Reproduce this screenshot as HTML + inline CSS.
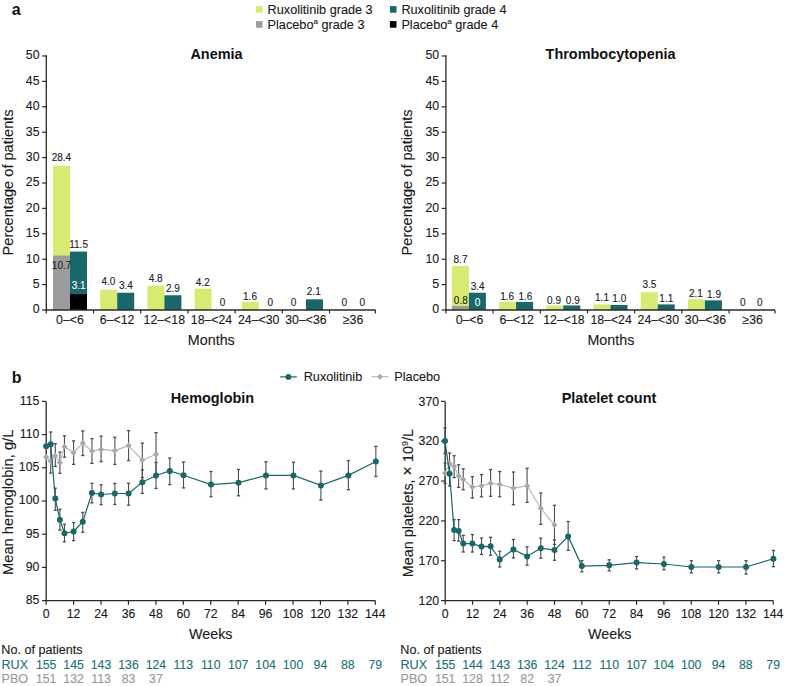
<!DOCTYPE html>
<html><head><meta charset="utf-8"><title>Figure</title>
<style>
html,body{margin:0;padding:0;background:#ffffff;}
body{width:785px;height:686px;overflow:hidden;}
svg{display:block;font-family:"Liberation Sans", sans-serif;}

</style></head>
<body>
<svg width="785" height="686" viewBox="0 0 785 686">
<rect x="0" y="0" width="785" height="686" fill="#ffffff"/>
<text x="11.80" y="15.20" font-size="16" text-anchor="start" font-weight="bold" fill="#111" stroke="#111" stroke-width="0.0" >a</text>
<rect x="256.00" y="6.10" width="6.60" height="6.60" fill="#d8ea72"/>
<text x="267.60" y="13.90" font-size="12.7" text-anchor="start" font-weight="normal" fill="#1a1a1a" stroke="#1a1a1a" stroke-width="0.12" >Ruxolitinib grade 3</text>
<rect x="389.90" y="6.10" width="6.60" height="6.60" fill="#186769"/>
<text x="401.40" y="13.90" font-size="12.7" text-anchor="start" font-weight="normal" fill="#1a1a1a" stroke="#1a1a1a" stroke-width="0.12" >Ruxolitinib grade 4</text>
<rect x="256.00" y="21.10" width="6.60" height="6.60" fill="#9c9c9c"/>
<text x="267.60" y="28.90" font-size="12.7" text-anchor="start" font-weight="normal" fill="#1a1a1a" stroke="#1a1a1a" stroke-width="0.12" >Placebo<tspan font-size="8" dy="-4.5">a</tspan><tspan dy="4.5"> grade 3</tspan></text>
<rect x="389.90" y="21.10" width="6.60" height="6.60" fill="#000000"/>
<text x="401.40" y="28.90" font-size="12.7" text-anchor="start" font-weight="normal" fill="#1a1a1a" stroke="#1a1a1a" stroke-width="0.12" >Placebo<tspan font-size="8" dy="-4.5">a</tspan><tspan dy="4.5"> grade 4</tspan></text>
<rect x="53.00" y="165.73" width="17.00" height="144.27" fill="#d8ea72"/>
<rect x="70.00" y="251.58" width="17.00" height="58.42" fill="#186769"/>
<rect x="100.20" y="289.68" width="17.00" height="20.32" fill="#d8ea72"/>
<rect x="117.20" y="292.73" width="17.00" height="17.27" fill="#186769"/>
<rect x="147.40" y="285.62" width="17.00" height="24.38" fill="#d8ea72"/>
<rect x="164.40" y="295.27" width="17.00" height="14.73" fill="#186769"/>
<rect x="194.60" y="288.66" width="17.00" height="21.34" fill="#d8ea72"/>
<rect x="241.80" y="301.87" width="17.00" height="8.13" fill="#d8ea72"/>
<rect x="306.00" y="299.33" width="17.00" height="10.67" fill="#186769"/>
<rect x="53.00" y="255.64" width="17.00" height="54.36" fill="#9c9c9c"/>
<rect x="70.00" y="294.25" width="17.00" height="15.75" fill="#000000"/>
<text x="61.60" y="268.60" font-size="10" text-anchor="middle" font-weight="normal" fill="#222" stroke="#222" stroke-width="0.12" >10.7</text>
<text x="78.60" y="288.80" font-size="10" text-anchor="middle" font-weight="normal" fill="#ffffff" stroke="#ffffff" stroke-width="0.12" >3.1</text>
<text x="61.40" y="161.40" font-size="10" text-anchor="middle" font-weight="normal" fill="#222" stroke="#222" stroke-width="0.12" >28.4</text>
<text x="78.60" y="247.60" font-size="10" text-anchor="middle" font-weight="normal" fill="#222" stroke="#222" stroke-width="0.12" >11.5</text>
<text x="108.40" y="285.30" font-size="10" text-anchor="middle" font-weight="normal" fill="#222" stroke="#222" stroke-width="0.12" >4.0</text>
<text x="125.90" y="288.50" font-size="10" text-anchor="middle" font-weight="normal" fill="#222" stroke="#222" stroke-width="0.12" >3.4</text>
<text x="155.60" y="281.50" font-size="10" text-anchor="middle" font-weight="normal" fill="#222" stroke="#222" stroke-width="0.12" >4.8</text>
<text x="172.90" y="291.50" font-size="10" text-anchor="middle" font-weight="normal" fill="#222" stroke="#222" stroke-width="0.12" >2.9</text>
<text x="202.80" y="286.20" font-size="10" text-anchor="middle" font-weight="normal" fill="#222" stroke="#222" stroke-width="0.12" >4.2</text>
<text x="222.60" y="305.60" font-size="10" text-anchor="middle" font-weight="normal" fill="#222" stroke="#222" stroke-width="0.12" >0</text>
<text x="250.00" y="299.90" font-size="10" text-anchor="middle" font-weight="normal" fill="#222" stroke="#222" stroke-width="0.12" >1.6</text>
<text x="270.20" y="305.60" font-size="10" text-anchor="middle" font-weight="normal" fill="#222" stroke="#222" stroke-width="0.12" >0</text>
<text x="293.50" y="305.60" font-size="10" text-anchor="middle" font-weight="normal" fill="#222" stroke="#222" stroke-width="0.12" >0</text>
<text x="313.80" y="295.10" font-size="10" text-anchor="middle" font-weight="normal" fill="#222" stroke="#222" stroke-width="0.12" >2.1</text>
<text x="344.20" y="305.70" font-size="10" text-anchor="middle" font-weight="normal" fill="#222" stroke="#222" stroke-width="0.12" >0</text>
<text x="362.20" y="305.70" font-size="10" text-anchor="middle" font-weight="normal" fill="#222" stroke="#222" stroke-width="0.12" >0</text>
<line x1="46.30" y1="55.20" x2="46.30" y2="310.60" stroke="#2a2a2a" stroke-width="1.3"/>
<line x1="45.70" y1="310.00" x2="375.40" y2="310.00" stroke="#2a2a2a" stroke-width="1.3"/>
<line x1="42.10" y1="310.00" x2="46.30" y2="310.00" stroke="#2a2a2a" stroke-width="1.2"/>
<text x="39.50" y="313.40" font-size="12.3" text-anchor="end" font-weight="normal" fill="#1a1a1a" stroke="#1a1a1a" stroke-width="0.12" >0</text>
<line x1="42.10" y1="284.60" x2="46.30" y2="284.60" stroke="#2a2a2a" stroke-width="1.2"/>
<text x="39.50" y="288.00" font-size="12.3" text-anchor="end" font-weight="normal" fill="#1a1a1a" stroke="#1a1a1a" stroke-width="0.12" >5</text>
<line x1="42.10" y1="259.20" x2="46.30" y2="259.20" stroke="#2a2a2a" stroke-width="1.2"/>
<text x="39.50" y="262.60" font-size="12.3" text-anchor="end" font-weight="normal" fill="#1a1a1a" stroke="#1a1a1a" stroke-width="0.12" >10</text>
<line x1="42.10" y1="233.80" x2="46.30" y2="233.80" stroke="#2a2a2a" stroke-width="1.2"/>
<text x="39.50" y="237.20" font-size="12.3" text-anchor="end" font-weight="normal" fill="#1a1a1a" stroke="#1a1a1a" stroke-width="0.12" >15</text>
<line x1="42.10" y1="208.40" x2="46.30" y2="208.40" stroke="#2a2a2a" stroke-width="1.2"/>
<text x="39.50" y="211.80" font-size="12.3" text-anchor="end" font-weight="normal" fill="#1a1a1a" stroke="#1a1a1a" stroke-width="0.12" >20</text>
<line x1="42.10" y1="183.00" x2="46.30" y2="183.00" stroke="#2a2a2a" stroke-width="1.2"/>
<text x="39.50" y="186.40" font-size="12.3" text-anchor="end" font-weight="normal" fill="#1a1a1a" stroke="#1a1a1a" stroke-width="0.12" >25</text>
<line x1="42.10" y1="157.60" x2="46.30" y2="157.60" stroke="#2a2a2a" stroke-width="1.2"/>
<text x="39.50" y="161.00" font-size="12.3" text-anchor="end" font-weight="normal" fill="#1a1a1a" stroke="#1a1a1a" stroke-width="0.12" >30</text>
<line x1="42.10" y1="132.20" x2="46.30" y2="132.20" stroke="#2a2a2a" stroke-width="1.2"/>
<text x="39.50" y="135.60" font-size="12.3" text-anchor="end" font-weight="normal" fill="#1a1a1a" stroke="#1a1a1a" stroke-width="0.12" >35</text>
<line x1="42.10" y1="106.80" x2="46.30" y2="106.80" stroke="#2a2a2a" stroke-width="1.2"/>
<text x="39.50" y="110.20" font-size="12.3" text-anchor="end" font-weight="normal" fill="#1a1a1a" stroke="#1a1a1a" stroke-width="0.12" >40</text>
<line x1="42.10" y1="81.40" x2="46.30" y2="81.40" stroke="#2a2a2a" stroke-width="1.2"/>
<text x="39.50" y="84.80" font-size="12.3" text-anchor="end" font-weight="normal" fill="#1a1a1a" stroke="#1a1a1a" stroke-width="0.12" >45</text>
<line x1="42.10" y1="56.00" x2="46.30" y2="56.00" stroke="#2a2a2a" stroke-width="1.2"/>
<text x="39.50" y="59.40" font-size="12.3" text-anchor="end" font-weight="normal" fill="#1a1a1a" stroke="#1a1a1a" stroke-width="0.12" >50</text>
<line x1="46.30" y1="310.00" x2="46.30" y2="313.40" stroke="#2a2a2a" stroke-width="1.2"/>
<line x1="93.50" y1="310.00" x2="93.50" y2="313.40" stroke="#2a2a2a" stroke-width="1.2"/>
<line x1="140.70" y1="310.00" x2="140.70" y2="313.40" stroke="#2a2a2a" stroke-width="1.2"/>
<line x1="187.90" y1="310.00" x2="187.90" y2="313.40" stroke="#2a2a2a" stroke-width="1.2"/>
<line x1="235.10" y1="310.00" x2="235.10" y2="313.40" stroke="#2a2a2a" stroke-width="1.2"/>
<line x1="282.30" y1="310.00" x2="282.30" y2="313.40" stroke="#2a2a2a" stroke-width="1.2"/>
<line x1="329.50" y1="310.00" x2="329.50" y2="313.40" stroke="#2a2a2a" stroke-width="1.2"/>
<line x1="375.40" y1="310.00" x2="375.40" y2="313.40" stroke="#2a2a2a" stroke-width="1.2"/>
<text x="69.90" y="324.30" font-size="12.3" text-anchor="middle" font-weight="normal" fill="#1a1a1a" stroke="#1a1a1a" stroke-width="0.12" >0–&lt;6</text>
<text x="117.10" y="324.30" font-size="12.3" text-anchor="middle" font-weight="normal" fill="#1a1a1a" stroke="#1a1a1a" stroke-width="0.12" >6–&lt;12</text>
<text x="164.30" y="324.30" font-size="12.3" text-anchor="middle" font-weight="normal" fill="#1a1a1a" stroke="#1a1a1a" stroke-width="0.12" >12–&lt;18</text>
<text x="211.50" y="324.30" font-size="12.3" text-anchor="middle" font-weight="normal" fill="#1a1a1a" stroke="#1a1a1a" stroke-width="0.12" >18–&lt;24</text>
<text x="258.70" y="324.30" font-size="12.3" text-anchor="middle" font-weight="normal" fill="#1a1a1a" stroke="#1a1a1a" stroke-width="0.12" >24–&lt;30</text>
<text x="305.90" y="324.30" font-size="12.3" text-anchor="middle" font-weight="normal" fill="#1a1a1a" stroke="#1a1a1a" stroke-width="0.12" >30–&lt;36</text>
<text x="353.10" y="324.30" font-size="12.3" text-anchor="middle" font-weight="normal" fill="#1a1a1a" stroke="#1a1a1a" stroke-width="0.12" >≥36</text>
<text x="211.30" y="344.70" font-size="14.3" text-anchor="middle" font-weight="normal" fill="#1a1a1a" stroke="#1a1a1a" stroke-width="0.12" >Months</text>
<text x="216.50" y="58.60" font-size="14.45" text-anchor="middle" font-weight="bold" fill="#111" stroke="#111" stroke-width="0.0" >Anemia</text>
<text transform="translate(12.70,182.4) rotate(-90)" font-size="14.6" text-anchor="middle" fill="#1a1a1a" stroke="#1a1a1a" stroke-width="0.12">Percentage of patients</text>
<rect x="451.90" y="265.80" width="17.00" height="44.20" fill="#d8ea72"/>
<rect x="468.90" y="292.73" width="17.00" height="17.27" fill="#186769"/>
<rect x="499.10" y="301.87" width="17.00" height="8.13" fill="#d8ea72"/>
<rect x="516.10" y="301.87" width="17.00" height="8.13" fill="#186769"/>
<rect x="546.30" y="305.43" width="17.00" height="4.57" fill="#d8ea72"/>
<rect x="563.30" y="305.43" width="17.00" height="4.57" fill="#186769"/>
<rect x="593.50" y="304.41" width="17.00" height="5.59" fill="#d8ea72"/>
<rect x="610.50" y="304.92" width="17.00" height="5.08" fill="#186769"/>
<rect x="640.70" y="292.22" width="17.00" height="17.78" fill="#d8ea72"/>
<rect x="657.70" y="304.41" width="17.00" height="5.59" fill="#186769"/>
<rect x="687.90" y="299.33" width="17.00" height="10.67" fill="#d8ea72"/>
<rect x="704.90" y="300.35" width="17.00" height="9.65" fill="#186769"/>
<rect x="451.90" y="305.94" width="17.00" height="4.06" fill="#9c9c9c"/>
<text x="460.80" y="303.50" font-size="10" text-anchor="middle" font-weight="normal" fill="#222" stroke="#222" stroke-width="0.12" >0.8</text>
<text x="477.50" y="305.90" font-size="10" text-anchor="middle" font-weight="normal" fill="#ffffff" stroke="#ffffff" stroke-width="0.12" >0</text>
<text x="460.50" y="263.00" font-size="10" text-anchor="middle" font-weight="normal" fill="#222" stroke="#222" stroke-width="0.12" >8.7</text>
<text x="477.60" y="290.20" font-size="10" text-anchor="middle" font-weight="normal" fill="#222" stroke="#222" stroke-width="0.12" >3.4</text>
<text x="507.20" y="299.70" font-size="10" text-anchor="middle" font-weight="normal" fill="#222" stroke="#222" stroke-width="0.12" >1.6</text>
<text x="525.40" y="299.70" font-size="10" text-anchor="middle" font-weight="normal" fill="#222" stroke="#222" stroke-width="0.12" >1.6</text>
<text x="554.00" y="303.60" font-size="10" text-anchor="middle" font-weight="normal" fill="#222" stroke="#222" stroke-width="0.12" >0.9</text>
<text x="572.80" y="303.60" font-size="10" text-anchor="middle" font-weight="normal" fill="#222" stroke="#222" stroke-width="0.12" >0.9</text>
<text x="602.00" y="301.40" font-size="10" text-anchor="middle" font-weight="normal" fill="#222" stroke="#222" stroke-width="0.12" >1.1</text>
<text x="619.30" y="302.40" font-size="10" text-anchor="middle" font-weight="normal" fill="#222" stroke="#222" stroke-width="0.12" >1.0</text>
<text x="649.40" y="287.80" font-size="10" text-anchor="middle" font-weight="normal" fill="#222" stroke="#222" stroke-width="0.12" >3.5</text>
<text x="666.30" y="301.80" font-size="10" text-anchor="middle" font-weight="normal" fill="#222" stroke="#222" stroke-width="0.12" >1.1</text>
<text x="695.90" y="296.80" font-size="10" text-anchor="middle" font-weight="normal" fill="#222" stroke="#222" stroke-width="0.12" >2.1</text>
<text x="714.00" y="297.80" font-size="10" text-anchor="middle" font-weight="normal" fill="#222" stroke="#222" stroke-width="0.12" >1.9</text>
<text x="742.80" y="305.70" font-size="10" text-anchor="middle" font-weight="normal" fill="#222" stroke="#222" stroke-width="0.12" >0</text>
<text x="759.90" y="305.70" font-size="10" text-anchor="middle" font-weight="normal" fill="#222" stroke="#222" stroke-width="0.12" >0</text>
<line x1="445.90" y1="55.20" x2="445.90" y2="310.60" stroke="#2a2a2a" stroke-width="1.3"/>
<line x1="445.30" y1="310.00" x2="775.00" y2="310.00" stroke="#2a2a2a" stroke-width="1.3"/>
<line x1="441.70" y1="310.00" x2="445.90" y2="310.00" stroke="#2a2a2a" stroke-width="1.2"/>
<text x="439.10" y="313.40" font-size="12.3" text-anchor="end" font-weight="normal" fill="#1a1a1a" stroke="#1a1a1a" stroke-width="0.12" >0</text>
<line x1="441.70" y1="284.60" x2="445.90" y2="284.60" stroke="#2a2a2a" stroke-width="1.2"/>
<text x="439.10" y="288.00" font-size="12.3" text-anchor="end" font-weight="normal" fill="#1a1a1a" stroke="#1a1a1a" stroke-width="0.12" >5</text>
<line x1="441.70" y1="259.20" x2="445.90" y2="259.20" stroke="#2a2a2a" stroke-width="1.2"/>
<text x="439.10" y="262.60" font-size="12.3" text-anchor="end" font-weight="normal" fill="#1a1a1a" stroke="#1a1a1a" stroke-width="0.12" >10</text>
<line x1="441.70" y1="233.80" x2="445.90" y2="233.80" stroke="#2a2a2a" stroke-width="1.2"/>
<text x="439.10" y="237.20" font-size="12.3" text-anchor="end" font-weight="normal" fill="#1a1a1a" stroke="#1a1a1a" stroke-width="0.12" >15</text>
<line x1="441.70" y1="208.40" x2="445.90" y2="208.40" stroke="#2a2a2a" stroke-width="1.2"/>
<text x="439.10" y="211.80" font-size="12.3" text-anchor="end" font-weight="normal" fill="#1a1a1a" stroke="#1a1a1a" stroke-width="0.12" >20</text>
<line x1="441.70" y1="183.00" x2="445.90" y2="183.00" stroke="#2a2a2a" stroke-width="1.2"/>
<text x="439.10" y="186.40" font-size="12.3" text-anchor="end" font-weight="normal" fill="#1a1a1a" stroke="#1a1a1a" stroke-width="0.12" >25</text>
<line x1="441.70" y1="157.60" x2="445.90" y2="157.60" stroke="#2a2a2a" stroke-width="1.2"/>
<text x="439.10" y="161.00" font-size="12.3" text-anchor="end" font-weight="normal" fill="#1a1a1a" stroke="#1a1a1a" stroke-width="0.12" >30</text>
<line x1="441.70" y1="132.20" x2="445.90" y2="132.20" stroke="#2a2a2a" stroke-width="1.2"/>
<text x="439.10" y="135.60" font-size="12.3" text-anchor="end" font-weight="normal" fill="#1a1a1a" stroke="#1a1a1a" stroke-width="0.12" >35</text>
<line x1="441.70" y1="106.80" x2="445.90" y2="106.80" stroke="#2a2a2a" stroke-width="1.2"/>
<text x="439.10" y="110.20" font-size="12.3" text-anchor="end" font-weight="normal" fill="#1a1a1a" stroke="#1a1a1a" stroke-width="0.12" >40</text>
<line x1="441.70" y1="81.40" x2="445.90" y2="81.40" stroke="#2a2a2a" stroke-width="1.2"/>
<text x="439.10" y="84.80" font-size="12.3" text-anchor="end" font-weight="normal" fill="#1a1a1a" stroke="#1a1a1a" stroke-width="0.12" >45</text>
<line x1="441.70" y1="56.00" x2="445.90" y2="56.00" stroke="#2a2a2a" stroke-width="1.2"/>
<text x="439.10" y="59.40" font-size="12.3" text-anchor="end" font-weight="normal" fill="#1a1a1a" stroke="#1a1a1a" stroke-width="0.12" >50</text>
<line x1="445.90" y1="310.00" x2="445.90" y2="313.40" stroke="#2a2a2a" stroke-width="1.2"/>
<line x1="493.10" y1="310.00" x2="493.10" y2="313.40" stroke="#2a2a2a" stroke-width="1.2"/>
<line x1="540.30" y1="310.00" x2="540.30" y2="313.40" stroke="#2a2a2a" stroke-width="1.2"/>
<line x1="587.50" y1="310.00" x2="587.50" y2="313.40" stroke="#2a2a2a" stroke-width="1.2"/>
<line x1="634.70" y1="310.00" x2="634.70" y2="313.40" stroke="#2a2a2a" stroke-width="1.2"/>
<line x1="681.90" y1="310.00" x2="681.90" y2="313.40" stroke="#2a2a2a" stroke-width="1.2"/>
<line x1="729.10" y1="310.00" x2="729.10" y2="313.40" stroke="#2a2a2a" stroke-width="1.2"/>
<line x1="775.00" y1="310.00" x2="775.00" y2="313.40" stroke="#2a2a2a" stroke-width="1.2"/>
<text x="469.50" y="324.30" font-size="12.3" text-anchor="middle" font-weight="normal" fill="#1a1a1a" stroke="#1a1a1a" stroke-width="0.12" >0–&lt;6</text>
<text x="516.70" y="324.30" font-size="12.3" text-anchor="middle" font-weight="normal" fill="#1a1a1a" stroke="#1a1a1a" stroke-width="0.12" >6–&lt;12</text>
<text x="563.90" y="324.30" font-size="12.3" text-anchor="middle" font-weight="normal" fill="#1a1a1a" stroke="#1a1a1a" stroke-width="0.12" >12–&lt;18</text>
<text x="611.10" y="324.30" font-size="12.3" text-anchor="middle" font-weight="normal" fill="#1a1a1a" stroke="#1a1a1a" stroke-width="0.12" >18–&lt;24</text>
<text x="658.30" y="324.30" font-size="12.3" text-anchor="middle" font-weight="normal" fill="#1a1a1a" stroke="#1a1a1a" stroke-width="0.12" >24–&lt;30</text>
<text x="705.50" y="324.30" font-size="12.3" text-anchor="middle" font-weight="normal" fill="#1a1a1a" stroke="#1a1a1a" stroke-width="0.12" >30–&lt;36</text>
<text x="752.70" y="324.30" font-size="12.3" text-anchor="middle" font-weight="normal" fill="#1a1a1a" stroke="#1a1a1a" stroke-width="0.12" >≥36</text>
<text x="610.90" y="344.70" font-size="14.3" text-anchor="middle" font-weight="normal" fill="#1a1a1a" stroke="#1a1a1a" stroke-width="0.12" >Months</text>
<text x="610.60" y="58.60" font-size="14.45" text-anchor="middle" font-weight="bold" fill="#111" stroke="#111" stroke-width="0.0" >Thrombocytopenia</text>
<text transform="translate(412.30,182.4) rotate(-90)" font-size="14.6" text-anchor="middle" fill="#1a1a1a" stroke="#1a1a1a" stroke-width="0.12">Percentage of patients</text>
<text x="11.80" y="382.70" font-size="16" text-anchor="start" font-weight="bold" fill="#111" stroke="#111" stroke-width="0.0" >b</text>
<line x1="280.20" y1="376.90" x2="296.80" y2="376.90" stroke="#186769" stroke-width="1.2"/>
<circle cx="288.4" cy="376.9" r="2.9" fill="#186769"/>
<text x="303.70" y="381.00" font-size="12.7" text-anchor="start" font-weight="normal" fill="#1a1a1a" stroke="#1a1a1a" stroke-width="0.12" >Ruxolitinib</text>
<line x1="371.40" y1="376.70" x2="388.50" y2="376.70" stroke="#b6b6b6" stroke-width="1.1"/>
<path d="M380,373.7 L383,376.7 L380,379.7 L377,376.7 Z" fill="#a9a9a9"/>
<text x="394.30" y="381.00" font-size="12.7" text-anchor="start" font-weight="normal" fill="#1a1a1a" stroke="#1a1a1a" stroke-width="0.12" >Placebo</text>
<line x1="46.20" y1="401.40" x2="46.20" y2="601.20" stroke="#2a2a2a" stroke-width="1.3"/>
<line x1="45.60" y1="600.60" x2="375.30" y2="600.60" stroke="#2a2a2a" stroke-width="1.3"/>
<line x1="42.00" y1="401.40" x2="46.20" y2="401.40" stroke="#2a2a2a" stroke-width="1.2"/>
<text x="39.40" y="404.80" font-size="12.3" text-anchor="end" font-weight="normal" fill="#1a1a1a" stroke="#1a1a1a" stroke-width="0.12" >115</text>
<line x1="42.00" y1="434.60" x2="46.20" y2="434.60" stroke="#2a2a2a" stroke-width="1.2"/>
<text x="39.40" y="438.00" font-size="12.3" text-anchor="end" font-weight="normal" fill="#1a1a1a" stroke="#1a1a1a" stroke-width="0.12" >110</text>
<line x1="42.00" y1="467.80" x2="46.20" y2="467.80" stroke="#2a2a2a" stroke-width="1.2"/>
<text x="39.40" y="471.20" font-size="12.3" text-anchor="end" font-weight="normal" fill="#1a1a1a" stroke="#1a1a1a" stroke-width="0.12" >105</text>
<line x1="42.00" y1="501.00" x2="46.20" y2="501.00" stroke="#2a2a2a" stroke-width="1.2"/>
<text x="39.40" y="504.40" font-size="12.3" text-anchor="end" font-weight="normal" fill="#1a1a1a" stroke="#1a1a1a" stroke-width="0.12" >100</text>
<line x1="42.00" y1="534.20" x2="46.20" y2="534.20" stroke="#2a2a2a" stroke-width="1.2"/>
<text x="39.40" y="537.60" font-size="12.3" text-anchor="end" font-weight="normal" fill="#1a1a1a" stroke="#1a1a1a" stroke-width="0.12" >95</text>
<line x1="42.00" y1="567.40" x2="46.20" y2="567.40" stroke="#2a2a2a" stroke-width="1.2"/>
<text x="39.40" y="570.80" font-size="12.3" text-anchor="end" font-weight="normal" fill="#1a1a1a" stroke="#1a1a1a" stroke-width="0.12" >90</text>
<line x1="42.00" y1="600.60" x2="46.20" y2="600.60" stroke="#2a2a2a" stroke-width="1.2"/>
<text x="39.40" y="604.00" font-size="12.3" text-anchor="end" font-weight="normal" fill="#1a1a1a" stroke="#1a1a1a" stroke-width="0.12" >85</text>
<line x1="46.20" y1="600.60" x2="46.20" y2="604.80" stroke="#2a2a2a" stroke-width="1.2"/>
<text x="46.20" y="618.30" font-size="12.3" text-anchor="middle" font-weight="normal" fill="#1a1a1a" stroke="#1a1a1a" stroke-width="0.12" >0</text>
<line x1="73.62" y1="600.60" x2="73.62" y2="604.80" stroke="#2a2a2a" stroke-width="1.2"/>
<text x="73.62" y="618.30" font-size="12.3" text-anchor="middle" font-weight="normal" fill="#1a1a1a" stroke="#1a1a1a" stroke-width="0.12" >12</text>
<line x1="101.05" y1="600.60" x2="101.05" y2="604.80" stroke="#2a2a2a" stroke-width="1.2"/>
<text x="101.05" y="618.30" font-size="12.3" text-anchor="middle" font-weight="normal" fill="#1a1a1a" stroke="#1a1a1a" stroke-width="0.12" >24</text>
<line x1="128.47" y1="600.60" x2="128.47" y2="604.80" stroke="#2a2a2a" stroke-width="1.2"/>
<text x="128.47" y="618.30" font-size="12.3" text-anchor="middle" font-weight="normal" fill="#1a1a1a" stroke="#1a1a1a" stroke-width="0.12" >36</text>
<line x1="155.90" y1="600.60" x2="155.90" y2="604.80" stroke="#2a2a2a" stroke-width="1.2"/>
<text x="155.90" y="618.30" font-size="12.3" text-anchor="middle" font-weight="normal" fill="#1a1a1a" stroke="#1a1a1a" stroke-width="0.12" >48</text>
<line x1="183.32" y1="600.60" x2="183.32" y2="604.80" stroke="#2a2a2a" stroke-width="1.2"/>
<text x="183.32" y="618.30" font-size="12.3" text-anchor="middle" font-weight="normal" fill="#1a1a1a" stroke="#1a1a1a" stroke-width="0.12" >60</text>
<line x1="210.75" y1="600.60" x2="210.75" y2="604.80" stroke="#2a2a2a" stroke-width="1.2"/>
<text x="210.75" y="618.30" font-size="12.3" text-anchor="middle" font-weight="normal" fill="#1a1a1a" stroke="#1a1a1a" stroke-width="0.12" >72</text>
<line x1="238.17" y1="600.60" x2="238.17" y2="604.80" stroke="#2a2a2a" stroke-width="1.2"/>
<text x="238.17" y="618.30" font-size="12.3" text-anchor="middle" font-weight="normal" fill="#1a1a1a" stroke="#1a1a1a" stroke-width="0.12" >84</text>
<line x1="265.60" y1="600.60" x2="265.60" y2="604.80" stroke="#2a2a2a" stroke-width="1.2"/>
<text x="265.60" y="618.30" font-size="12.3" text-anchor="middle" font-weight="normal" fill="#1a1a1a" stroke="#1a1a1a" stroke-width="0.12" >96</text>
<line x1="293.02" y1="600.60" x2="293.02" y2="604.80" stroke="#2a2a2a" stroke-width="1.2"/>
<text x="293.02" y="618.30" font-size="12.3" text-anchor="middle" font-weight="normal" fill="#1a1a1a" stroke="#1a1a1a" stroke-width="0.12" >108</text>
<line x1="320.45" y1="600.60" x2="320.45" y2="604.80" stroke="#2a2a2a" stroke-width="1.2"/>
<text x="320.45" y="618.30" font-size="12.3" text-anchor="middle" font-weight="normal" fill="#1a1a1a" stroke="#1a1a1a" stroke-width="0.12" >120</text>
<line x1="347.87" y1="600.60" x2="347.87" y2="604.80" stroke="#2a2a2a" stroke-width="1.2"/>
<text x="347.87" y="618.30" font-size="12.3" text-anchor="middle" font-weight="normal" fill="#1a1a1a" stroke="#1a1a1a" stroke-width="0.12" >132</text>
<line x1="375.30" y1="600.60" x2="375.30" y2="604.80" stroke="#2a2a2a" stroke-width="1.2"/>
<text x="375.30" y="618.30" font-size="12.3" text-anchor="middle" font-weight="normal" fill="#1a1a1a" stroke="#1a1a1a" stroke-width="0.12" >144</text>
<text x="210.80" y="638.60" font-size="14.3" text-anchor="middle" font-weight="normal" fill="#1a1a1a" stroke="#1a1a1a" stroke-width="0.12" >Weeks</text>
<text x="212.40" y="403.30" font-size="14.45" text-anchor="middle" font-weight="bold" fill="#111" stroke="#111" stroke-width="0.0" >Hemoglobin</text>
<text transform="translate(13.10,502.30) rotate(-90)" font-size="14.7" text-anchor="middle" fill="#1a1a1a" stroke="#1a1a1a" stroke-width="0.12">Mean hemoglobin, g/L</text>
<line x1="50.73" y1="432.00" x2="50.73" y2="473.10" stroke="#4d4d4d" stroke-width="1.1"/>
<line x1="49.13" y1="432.00" x2="52.33" y2="432.00" stroke="#4d4d4d" stroke-width="1.3"/>
<line x1="49.13" y1="473.10" x2="52.33" y2="473.10" stroke="#4d4d4d" stroke-width="1.3"/>
<line x1="55.31" y1="443.70" x2="55.31" y2="466.40" stroke="#4d4d4d" stroke-width="1.1"/>
<line x1="53.71" y1="443.70" x2="56.91" y2="443.70" stroke="#4d4d4d" stroke-width="1.3"/>
<line x1="53.71" y1="466.40" x2="56.91" y2="466.40" stroke="#4d4d4d" stroke-width="1.3"/>
<line x1="59.89" y1="452.10" x2="59.89" y2="473.30" stroke="#4d4d4d" stroke-width="1.1"/>
<line x1="58.29" y1="452.10" x2="61.49" y2="452.10" stroke="#4d4d4d" stroke-width="1.3"/>
<line x1="58.29" y1="473.30" x2="61.49" y2="473.30" stroke="#4d4d4d" stroke-width="1.3"/>
<line x1="64.47" y1="435.80" x2="64.47" y2="457.20" stroke="#4d4d4d" stroke-width="1.1"/>
<line x1="62.87" y1="435.80" x2="66.07" y2="435.80" stroke="#4d4d4d" stroke-width="1.3"/>
<line x1="62.87" y1="457.20" x2="66.07" y2="457.20" stroke="#4d4d4d" stroke-width="1.3"/>
<line x1="73.62" y1="440.90" x2="73.62" y2="464.40" stroke="#4d4d4d" stroke-width="1.1"/>
<line x1="72.02" y1="440.90" x2="75.22" y2="440.90" stroke="#4d4d4d" stroke-width="1.3"/>
<line x1="72.02" y1="464.40" x2="75.22" y2="464.40" stroke="#4d4d4d" stroke-width="1.3"/>
<line x1="82.78" y1="431.00" x2="82.78" y2="455.50" stroke="#4d4d4d" stroke-width="1.1"/>
<line x1="81.18" y1="431.00" x2="84.38" y2="431.00" stroke="#4d4d4d" stroke-width="1.3"/>
<line x1="81.18" y1="455.50" x2="84.38" y2="455.50" stroke="#4d4d4d" stroke-width="1.3"/>
<line x1="91.94" y1="438.60" x2="91.94" y2="463.40" stroke="#4d4d4d" stroke-width="1.1"/>
<line x1="90.34" y1="438.60" x2="93.54" y2="438.60" stroke="#4d4d4d" stroke-width="1.3"/>
<line x1="90.34" y1="463.40" x2="93.54" y2="463.40" stroke="#4d4d4d" stroke-width="1.3"/>
<line x1="101.10" y1="436.10" x2="101.10" y2="461.60" stroke="#4d4d4d" stroke-width="1.1"/>
<line x1="99.50" y1="436.10" x2="102.70" y2="436.10" stroke="#4d4d4d" stroke-width="1.3"/>
<line x1="99.50" y1="461.60" x2="102.70" y2="461.60" stroke="#4d4d4d" stroke-width="1.3"/>
<line x1="114.84" y1="437.30" x2="114.84" y2="464.40" stroke="#4d4d4d" stroke-width="1.1"/>
<line x1="113.24" y1="437.30" x2="116.44" y2="437.30" stroke="#4d4d4d" stroke-width="1.3"/>
<line x1="113.24" y1="464.40" x2="116.44" y2="464.40" stroke="#4d4d4d" stroke-width="1.3"/>
<line x1="128.57" y1="430.60" x2="128.57" y2="460.60" stroke="#4d4d4d" stroke-width="1.1"/>
<line x1="126.97" y1="430.60" x2="130.17" y2="430.60" stroke="#4d4d4d" stroke-width="1.3"/>
<line x1="126.97" y1="460.60" x2="130.17" y2="460.60" stroke="#4d4d4d" stroke-width="1.3"/>
<line x1="142.31" y1="443.10" x2="142.31" y2="477.50" stroke="#4d4d4d" stroke-width="1.1"/>
<line x1="140.71" y1="443.10" x2="143.91" y2="443.10" stroke="#4d4d4d" stroke-width="1.3"/>
<line x1="140.71" y1="477.50" x2="143.91" y2="477.50" stroke="#4d4d4d" stroke-width="1.3"/>
<line x1="156.05" y1="432.70" x2="156.05" y2="476.00" stroke="#4d4d4d" stroke-width="1.1"/>
<line x1="154.45" y1="432.70" x2="157.65" y2="432.70" stroke="#4d4d4d" stroke-width="1.3"/>
<line x1="154.45" y1="476.00" x2="157.65" y2="476.00" stroke="#4d4d4d" stroke-width="1.3"/>
<line x1="55.31" y1="488.20" x2="55.31" y2="510.30" stroke="#4d4d4d" stroke-width="1.1"/>
<line x1="53.71" y1="488.20" x2="56.91" y2="488.20" stroke="#4d4d4d" stroke-width="1.3"/>
<line x1="53.71" y1="510.30" x2="56.91" y2="510.30" stroke="#4d4d4d" stroke-width="1.3"/>
<line x1="59.89" y1="509.30" x2="59.89" y2="530.20" stroke="#4d4d4d" stroke-width="1.1"/>
<line x1="58.29" y1="509.30" x2="61.49" y2="509.30" stroke="#4d4d4d" stroke-width="1.3"/>
<line x1="58.29" y1="530.20" x2="61.49" y2="530.20" stroke="#4d4d4d" stroke-width="1.3"/>
<line x1="64.47" y1="524.20" x2="64.47" y2="541.80" stroke="#4d4d4d" stroke-width="1.1"/>
<line x1="62.87" y1="524.20" x2="66.07" y2="524.20" stroke="#4d4d4d" stroke-width="1.3"/>
<line x1="62.87" y1="541.80" x2="66.07" y2="541.80" stroke="#4d4d4d" stroke-width="1.3"/>
<line x1="73.62" y1="522.50" x2="73.62" y2="540.60" stroke="#4d4d4d" stroke-width="1.1"/>
<line x1="72.02" y1="522.50" x2="75.22" y2="522.50" stroke="#4d4d4d" stroke-width="1.3"/>
<line x1="72.02" y1="540.60" x2="75.22" y2="540.60" stroke="#4d4d4d" stroke-width="1.3"/>
<line x1="82.78" y1="512.40" x2="82.78" y2="532.20" stroke="#4d4d4d" stroke-width="1.1"/>
<line x1="81.18" y1="512.40" x2="84.38" y2="512.40" stroke="#4d4d4d" stroke-width="1.3"/>
<line x1="81.18" y1="532.20" x2="84.38" y2="532.20" stroke="#4d4d4d" stroke-width="1.3"/>
<line x1="91.94" y1="483.30" x2="91.94" y2="502.90" stroke="#4d4d4d" stroke-width="1.1"/>
<line x1="90.34" y1="483.30" x2="93.54" y2="483.30" stroke="#4d4d4d" stroke-width="1.3"/>
<line x1="90.34" y1="502.90" x2="93.54" y2="502.90" stroke="#4d4d4d" stroke-width="1.3"/>
<line x1="101.10" y1="484.80" x2="101.10" y2="504.70" stroke="#4d4d4d" stroke-width="1.1"/>
<line x1="99.50" y1="484.80" x2="102.70" y2="484.80" stroke="#4d4d4d" stroke-width="1.3"/>
<line x1="99.50" y1="504.70" x2="102.70" y2="504.70" stroke="#4d4d4d" stroke-width="1.3"/>
<line x1="114.84" y1="483.40" x2="114.84" y2="504.50" stroke="#4d4d4d" stroke-width="1.1"/>
<line x1="113.24" y1="483.40" x2="116.44" y2="483.40" stroke="#4d4d4d" stroke-width="1.3"/>
<line x1="113.24" y1="504.50" x2="116.44" y2="504.50" stroke="#4d4d4d" stroke-width="1.3"/>
<line x1="128.57" y1="483.30" x2="128.57" y2="505.20" stroke="#4d4d4d" stroke-width="1.1"/>
<line x1="126.97" y1="483.30" x2="130.17" y2="483.30" stroke="#4d4d4d" stroke-width="1.3"/>
<line x1="126.97" y1="505.20" x2="130.17" y2="505.20" stroke="#4d4d4d" stroke-width="1.3"/>
<line x1="142.31" y1="469.90" x2="142.31" y2="493.40" stroke="#4d4d4d" stroke-width="1.1"/>
<line x1="140.71" y1="469.90" x2="143.91" y2="469.90" stroke="#4d4d4d" stroke-width="1.3"/>
<line x1="140.71" y1="493.40" x2="143.91" y2="493.40" stroke="#4d4d4d" stroke-width="1.3"/>
<line x1="156.05" y1="462.50" x2="156.05" y2="488.50" stroke="#4d4d4d" stroke-width="1.1"/>
<line x1="154.45" y1="462.50" x2="157.65" y2="462.50" stroke="#4d4d4d" stroke-width="1.3"/>
<line x1="154.45" y1="488.50" x2="157.65" y2="488.50" stroke="#4d4d4d" stroke-width="1.3"/>
<line x1="169.78" y1="458.00" x2="169.78" y2="484.60" stroke="#4d4d4d" stroke-width="1.1"/>
<line x1="168.18" y1="458.00" x2="171.38" y2="458.00" stroke="#4d4d4d" stroke-width="1.3"/>
<line x1="168.18" y1="484.60" x2="171.38" y2="484.60" stroke="#4d4d4d" stroke-width="1.3"/>
<line x1="183.52" y1="462.00" x2="183.52" y2="487.90" stroke="#4d4d4d" stroke-width="1.1"/>
<line x1="181.92" y1="462.00" x2="185.12" y2="462.00" stroke="#4d4d4d" stroke-width="1.3"/>
<line x1="181.92" y1="487.90" x2="185.12" y2="487.90" stroke="#4d4d4d" stroke-width="1.3"/>
<line x1="210.99" y1="471.50" x2="210.99" y2="496.80" stroke="#4d4d4d" stroke-width="1.1"/>
<line x1="209.39" y1="471.50" x2="212.59" y2="471.50" stroke="#4d4d4d" stroke-width="1.3"/>
<line x1="209.39" y1="496.80" x2="212.59" y2="496.80" stroke="#4d4d4d" stroke-width="1.3"/>
<line x1="238.47" y1="469.40" x2="238.47" y2="495.80" stroke="#4d4d4d" stroke-width="1.1"/>
<line x1="236.87" y1="469.40" x2="240.07" y2="469.40" stroke="#4d4d4d" stroke-width="1.3"/>
<line x1="236.87" y1="495.80" x2="240.07" y2="495.80" stroke="#4d4d4d" stroke-width="1.3"/>
<line x1="265.94" y1="461.80" x2="265.94" y2="488.90" stroke="#4d4d4d" stroke-width="1.1"/>
<line x1="264.34" y1="461.80" x2="267.54" y2="461.80" stroke="#4d4d4d" stroke-width="1.3"/>
<line x1="264.34" y1="488.90" x2="267.54" y2="488.90" stroke="#4d4d4d" stroke-width="1.3"/>
<line x1="293.42" y1="462.20" x2="293.42" y2="488.90" stroke="#4d4d4d" stroke-width="1.1"/>
<line x1="291.82" y1="462.20" x2="295.02" y2="462.20" stroke="#4d4d4d" stroke-width="1.3"/>
<line x1="291.82" y1="488.90" x2="295.02" y2="488.90" stroke="#4d4d4d" stroke-width="1.3"/>
<line x1="320.89" y1="471.10" x2="320.89" y2="500.10" stroke="#4d4d4d" stroke-width="1.1"/>
<line x1="319.29" y1="471.10" x2="322.49" y2="471.10" stroke="#4d4d4d" stroke-width="1.3"/>
<line x1="319.29" y1="500.10" x2="322.49" y2="500.10" stroke="#4d4d4d" stroke-width="1.3"/>
<line x1="348.36" y1="460.70" x2="348.36" y2="489.70" stroke="#4d4d4d" stroke-width="1.1"/>
<line x1="346.76" y1="460.70" x2="349.96" y2="460.70" stroke="#4d4d4d" stroke-width="1.3"/>
<line x1="346.76" y1="489.70" x2="349.96" y2="489.70" stroke="#4d4d4d" stroke-width="1.3"/>
<line x1="375.84" y1="446.40" x2="375.84" y2="476.50" stroke="#4d4d4d" stroke-width="1.1"/>
<line x1="374.24" y1="446.40" x2="377.44" y2="446.40" stroke="#4d4d4d" stroke-width="1.3"/>
<line x1="374.24" y1="476.50" x2="377.44" y2="476.50" stroke="#4d4d4d" stroke-width="1.3"/>
<polyline points="46.15,457.20 50.73,461.30 55.31,455.70 59.89,462.70 64.47,446.70 73.62,452.70 82.78,443.00 91.94,451.10 101.10,449.40 114.84,450.60 128.57,445.60 142.31,460.20 156.05,454.30" fill="none" stroke="#b6b6b6" stroke-width="1.15"/>
<path d="M46.15,454.10 L49.25,457.20 L46.15,460.30 L43.05,457.20 Z" fill="#a9a9a9"/>
<path d="M50.73,458.20 L53.83,461.30 L50.73,464.40 L47.63,461.30 Z" fill="#a9a9a9"/>
<path d="M55.31,452.60 L58.41,455.70 L55.31,458.80 L52.21,455.70 Z" fill="#a9a9a9"/>
<path d="M59.89,459.60 L62.99,462.70 L59.89,465.80 L56.79,462.70 Z" fill="#a9a9a9"/>
<path d="M64.47,443.60 L67.57,446.70 L64.47,449.80 L61.37,446.70 Z" fill="#a9a9a9"/>
<path d="M73.62,449.60 L76.72,452.70 L73.62,455.80 L70.52,452.70 Z" fill="#a9a9a9"/>
<path d="M82.78,439.90 L85.88,443.00 L82.78,446.10 L79.68,443.00 Z" fill="#a9a9a9"/>
<path d="M91.94,448.00 L95.04,451.10 L91.94,454.20 L88.84,451.10 Z" fill="#a9a9a9"/>
<path d="M101.10,446.30 L104.20,449.40 L101.10,452.50 L98.00,449.40 Z" fill="#a9a9a9"/>
<path d="M114.84,447.50 L117.94,450.60 L114.84,453.70 L111.74,450.60 Z" fill="#a9a9a9"/>
<path d="M128.57,442.50 L131.67,445.60 L128.57,448.70 L125.47,445.60 Z" fill="#a9a9a9"/>
<path d="M142.31,457.10 L145.41,460.20 L142.31,463.30 L139.21,460.20 Z" fill="#a9a9a9"/>
<path d="M156.05,451.20 L159.15,454.30 L156.05,457.40 L152.95,454.30 Z" fill="#a9a9a9"/>
<polyline points="46.15,446.30 50.73,444.20 55.31,498.60 59.89,519.80 64.47,533.30 73.62,531.50 82.78,521.70 91.94,493.00 101.10,494.50 114.84,493.50 128.57,493.50 142.31,482.30 156.05,475.50 169.78,471.00 183.52,475.30 210.99,484.60 238.47,482.70 265.94,475.40 293.42,475.40 320.89,485.40 348.36,475.40 375.84,461.50" fill="none" stroke="#186769" stroke-width="1.2"/>
<circle cx="46.15" cy="446.30" r="3.0" fill="#186769"/>
<circle cx="50.73" cy="444.20" r="3.0" fill="#186769"/>
<circle cx="55.31" cy="498.60" r="3.0" fill="#186769"/>
<circle cx="59.89" cy="519.80" r="3.0" fill="#186769"/>
<circle cx="64.47" cy="533.30" r="3.0" fill="#186769"/>
<circle cx="73.62" cy="531.50" r="3.0" fill="#186769"/>
<circle cx="82.78" cy="521.70" r="3.0" fill="#186769"/>
<circle cx="91.94" cy="493.00" r="3.0" fill="#186769"/>
<circle cx="101.10" cy="494.50" r="3.0" fill="#186769"/>
<circle cx="114.84" cy="493.50" r="3.0" fill="#186769"/>
<circle cx="128.57" cy="493.50" r="3.0" fill="#186769"/>
<circle cx="142.31" cy="482.30" r="3.0" fill="#186769"/>
<circle cx="156.05" cy="475.50" r="3.0" fill="#186769"/>
<circle cx="169.78" cy="471.00" r="3.0" fill="#186769"/>
<circle cx="183.52" cy="475.30" r="3.0" fill="#186769"/>
<circle cx="210.99" cy="484.60" r="3.0" fill="#186769"/>
<circle cx="238.47" cy="482.70" r="3.0" fill="#186769"/>
<circle cx="265.94" cy="475.40" r="3.0" fill="#186769"/>
<circle cx="293.42" cy="475.40" r="3.0" fill="#186769"/>
<circle cx="320.89" cy="485.40" r="3.0" fill="#186769"/>
<circle cx="348.36" cy="475.40" r="3.0" fill="#186769"/>
<circle cx="375.84" cy="461.50" r="3.0" fill="#186769"/>
<text x="1.30" y="653.80" font-size="12.6" text-anchor="start" font-weight="normal" fill="#1a1a1a" stroke="#1a1a1a" stroke-width="0.12" >No. of patients</text>
<text x="1.50" y="668.80" font-size="12.6" text-anchor="start" font-weight="normal" fill="#217476" stroke="#217476" stroke-width="0.12" >RUX</text>
<text x="1.50" y="682.70" font-size="12.6" text-anchor="start" font-weight="normal" fill="#999999" stroke="#999999" stroke-width="0.12" >PBO</text>
<text x="46.20" y="668.80" font-size="12.3" text-anchor="middle" font-weight="normal" fill="#217476" stroke="#217476" stroke-width="0.12" >155</text>
<text x="73.62" y="668.80" font-size="12.3" text-anchor="middle" font-weight="normal" fill="#217476" stroke="#217476" stroke-width="0.12" >145</text>
<text x="101.05" y="668.80" font-size="12.3" text-anchor="middle" font-weight="normal" fill="#217476" stroke="#217476" stroke-width="0.12" >143</text>
<text x="128.47" y="668.80" font-size="12.3" text-anchor="middle" font-weight="normal" fill="#217476" stroke="#217476" stroke-width="0.12" >136</text>
<text x="155.90" y="668.80" font-size="12.3" text-anchor="middle" font-weight="normal" fill="#217476" stroke="#217476" stroke-width="0.12" >124</text>
<text x="183.32" y="668.80" font-size="12.3" text-anchor="middle" font-weight="normal" fill="#217476" stroke="#217476" stroke-width="0.12" >113</text>
<text x="210.75" y="668.80" font-size="12.3" text-anchor="middle" font-weight="normal" fill="#217476" stroke="#217476" stroke-width="0.12" >110</text>
<text x="238.17" y="668.80" font-size="12.3" text-anchor="middle" font-weight="normal" fill="#217476" stroke="#217476" stroke-width="0.12" >107</text>
<text x="265.60" y="668.80" font-size="12.3" text-anchor="middle" font-weight="normal" fill="#217476" stroke="#217476" stroke-width="0.12" >104</text>
<text x="293.02" y="668.80" font-size="12.3" text-anchor="middle" font-weight="normal" fill="#217476" stroke="#217476" stroke-width="0.12" >100</text>
<text x="320.45" y="668.80" font-size="12.3" text-anchor="middle" font-weight="normal" fill="#217476" stroke="#217476" stroke-width="0.12" >94</text>
<text x="347.87" y="668.80" font-size="12.3" text-anchor="middle" font-weight="normal" fill="#217476" stroke="#217476" stroke-width="0.12" >88</text>
<text x="375.30" y="668.80" font-size="12.3" text-anchor="middle" font-weight="normal" fill="#217476" stroke="#217476" stroke-width="0.12" >79</text>
<text x="46.20" y="682.70" font-size="12.3" text-anchor="middle" font-weight="normal" fill="#999999" stroke="#999999" stroke-width="0.12" >151</text>
<text x="73.62" y="682.70" font-size="12.3" text-anchor="middle" font-weight="normal" fill="#999999" stroke="#999999" stroke-width="0.12" >132</text>
<text x="101.05" y="682.70" font-size="12.3" text-anchor="middle" font-weight="normal" fill="#999999" stroke="#999999" stroke-width="0.12" >113</text>
<text x="128.47" y="682.70" font-size="12.3" text-anchor="middle" font-weight="normal" fill="#999999" stroke="#999999" stroke-width="0.12" >83</text>
<text x="155.90" y="682.70" font-size="12.3" text-anchor="middle" font-weight="normal" fill="#999999" stroke="#999999" stroke-width="0.12" >37</text>
<line x1="445.20" y1="401.40" x2="445.20" y2="601.20" stroke="#2a2a2a" stroke-width="1.3"/>
<line x1="444.60" y1="600.60" x2="773.20" y2="600.60" stroke="#2a2a2a" stroke-width="1.3"/>
<line x1="441.00" y1="401.40" x2="445.20" y2="401.40" stroke="#2a2a2a" stroke-width="1.2"/>
<text x="439.10" y="405.50" font-size="12.3" text-anchor="end" font-weight="normal" fill="#1a1a1a" stroke="#1a1a1a" stroke-width="0.12" >370</text>
<line x1="441.00" y1="441.24" x2="445.20" y2="441.24" stroke="#2a2a2a" stroke-width="1.2"/>
<text x="439.10" y="445.34" font-size="12.3" text-anchor="end" font-weight="normal" fill="#1a1a1a" stroke="#1a1a1a" stroke-width="0.12" >320</text>
<line x1="441.00" y1="481.08" x2="445.20" y2="481.08" stroke="#2a2a2a" stroke-width="1.2"/>
<text x="439.10" y="485.18" font-size="12.3" text-anchor="end" font-weight="normal" fill="#1a1a1a" stroke="#1a1a1a" stroke-width="0.12" >270</text>
<line x1="441.00" y1="520.92" x2="445.20" y2="520.92" stroke="#2a2a2a" stroke-width="1.2"/>
<text x="439.10" y="525.02" font-size="12.3" text-anchor="end" font-weight="normal" fill="#1a1a1a" stroke="#1a1a1a" stroke-width="0.12" >220</text>
<line x1="441.00" y1="560.76" x2="445.20" y2="560.76" stroke="#2a2a2a" stroke-width="1.2"/>
<text x="439.10" y="564.86" font-size="12.3" text-anchor="end" font-weight="normal" fill="#1a1a1a" stroke="#1a1a1a" stroke-width="0.12" >170</text>
<line x1="441.00" y1="600.60" x2="445.20" y2="600.60" stroke="#2a2a2a" stroke-width="1.2"/>
<text x="439.10" y="604.70" font-size="12.3" text-anchor="end" font-weight="normal" fill="#1a1a1a" stroke="#1a1a1a" stroke-width="0.12" >120</text>
<line x1="445.20" y1="600.60" x2="445.20" y2="604.80" stroke="#2a2a2a" stroke-width="1.2"/>
<text x="445.20" y="618.30" font-size="12.3" text-anchor="middle" font-weight="normal" fill="#1a1a1a" stroke="#1a1a1a" stroke-width="0.12" >0</text>
<line x1="472.53" y1="600.60" x2="472.53" y2="604.80" stroke="#2a2a2a" stroke-width="1.2"/>
<text x="472.53" y="618.30" font-size="12.3" text-anchor="middle" font-weight="normal" fill="#1a1a1a" stroke="#1a1a1a" stroke-width="0.12" >12</text>
<line x1="499.87" y1="600.60" x2="499.87" y2="604.80" stroke="#2a2a2a" stroke-width="1.2"/>
<text x="499.87" y="618.30" font-size="12.3" text-anchor="middle" font-weight="normal" fill="#1a1a1a" stroke="#1a1a1a" stroke-width="0.12" >24</text>
<line x1="527.20" y1="600.60" x2="527.20" y2="604.80" stroke="#2a2a2a" stroke-width="1.2"/>
<text x="527.20" y="618.30" font-size="12.3" text-anchor="middle" font-weight="normal" fill="#1a1a1a" stroke="#1a1a1a" stroke-width="0.12" >36</text>
<line x1="554.53" y1="600.60" x2="554.53" y2="604.80" stroke="#2a2a2a" stroke-width="1.2"/>
<text x="554.53" y="618.30" font-size="12.3" text-anchor="middle" font-weight="normal" fill="#1a1a1a" stroke="#1a1a1a" stroke-width="0.12" >48</text>
<line x1="581.87" y1="600.60" x2="581.87" y2="604.80" stroke="#2a2a2a" stroke-width="1.2"/>
<text x="581.87" y="618.30" font-size="12.3" text-anchor="middle" font-weight="normal" fill="#1a1a1a" stroke="#1a1a1a" stroke-width="0.12" >60</text>
<line x1="609.20" y1="600.60" x2="609.20" y2="604.80" stroke="#2a2a2a" stroke-width="1.2"/>
<text x="609.20" y="618.30" font-size="12.3" text-anchor="middle" font-weight="normal" fill="#1a1a1a" stroke="#1a1a1a" stroke-width="0.12" >72</text>
<line x1="636.54" y1="600.60" x2="636.54" y2="604.80" stroke="#2a2a2a" stroke-width="1.2"/>
<text x="636.54" y="618.30" font-size="12.3" text-anchor="middle" font-weight="normal" fill="#1a1a1a" stroke="#1a1a1a" stroke-width="0.12" >84</text>
<line x1="663.87" y1="600.60" x2="663.87" y2="604.80" stroke="#2a2a2a" stroke-width="1.2"/>
<text x="663.87" y="618.30" font-size="12.3" text-anchor="middle" font-weight="normal" fill="#1a1a1a" stroke="#1a1a1a" stroke-width="0.12" >96</text>
<line x1="691.20" y1="600.60" x2="691.20" y2="604.80" stroke="#2a2a2a" stroke-width="1.2"/>
<text x="691.20" y="618.30" font-size="12.3" text-anchor="middle" font-weight="normal" fill="#1a1a1a" stroke="#1a1a1a" stroke-width="0.12" >108</text>
<line x1="718.54" y1="600.60" x2="718.54" y2="604.80" stroke="#2a2a2a" stroke-width="1.2"/>
<text x="718.54" y="618.30" font-size="12.3" text-anchor="middle" font-weight="normal" fill="#1a1a1a" stroke="#1a1a1a" stroke-width="0.12" >120</text>
<line x1="745.87" y1="600.60" x2="745.87" y2="604.80" stroke="#2a2a2a" stroke-width="1.2"/>
<text x="745.87" y="618.30" font-size="12.3" text-anchor="middle" font-weight="normal" fill="#1a1a1a" stroke="#1a1a1a" stroke-width="0.12" >132</text>
<line x1="773.20" y1="600.60" x2="773.20" y2="604.80" stroke="#2a2a2a" stroke-width="1.2"/>
<text x="773.20" y="618.30" font-size="12.3" text-anchor="middle" font-weight="normal" fill="#1a1a1a" stroke="#1a1a1a" stroke-width="0.12" >144</text>
<text x="609.80" y="638.60" font-size="14.3" text-anchor="middle" font-weight="normal" fill="#1a1a1a" stroke="#1a1a1a" stroke-width="0.12" >Weeks</text>
<text x="609.00" y="403.30" font-size="14.45" text-anchor="middle" font-weight="bold" fill="#111" stroke="#111" stroke-width="0.0" >Platelet count</text>
<text transform="translate(412.50,503.10) rotate(-90)" font-size="14.45" text-anchor="middle" fill="#1a1a1a" stroke="#1a1a1a" stroke-width="0.12">Mean platelets, <tspan font-size="16">×</tspan> 10<tspan font-size="9" dy="-5">9</tspan><tspan dy="5">/L</tspan></text>
<line x1="445.00" y1="462.90" x2="445.00" y2="483.50" stroke="#4d4d4d" stroke-width="1.1"/>
<line x1="443.40" y1="462.90" x2="446.60" y2="462.90" stroke="#4d4d4d" stroke-width="1.3"/>
<line x1="443.40" y1="483.50" x2="446.60" y2="483.50" stroke="#4d4d4d" stroke-width="1.3"/>
<line x1="449.56" y1="453.00" x2="449.56" y2="474.50" stroke="#4d4d4d" stroke-width="1.1"/>
<line x1="447.96" y1="453.00" x2="451.16" y2="453.00" stroke="#4d4d4d" stroke-width="1.3"/>
<line x1="447.96" y1="474.50" x2="451.16" y2="474.50" stroke="#4d4d4d" stroke-width="1.3"/>
<line x1="454.12" y1="455.70" x2="454.12" y2="477.60" stroke="#4d4d4d" stroke-width="1.1"/>
<line x1="452.52" y1="455.70" x2="455.72" y2="455.70" stroke="#4d4d4d" stroke-width="1.3"/>
<line x1="452.52" y1="477.60" x2="455.72" y2="477.60" stroke="#4d4d4d" stroke-width="1.3"/>
<line x1="458.68" y1="464.80" x2="458.68" y2="487.40" stroke="#4d4d4d" stroke-width="1.1"/>
<line x1="457.08" y1="464.80" x2="460.28" y2="464.80" stroke="#4d4d4d" stroke-width="1.3"/>
<line x1="457.08" y1="487.40" x2="460.28" y2="487.40" stroke="#4d4d4d" stroke-width="1.3"/>
<line x1="463.24" y1="468.80" x2="463.24" y2="489.80" stroke="#4d4d4d" stroke-width="1.1"/>
<line x1="461.64" y1="468.80" x2="464.84" y2="468.80" stroke="#4d4d4d" stroke-width="1.3"/>
<line x1="461.64" y1="489.80" x2="464.84" y2="489.80" stroke="#4d4d4d" stroke-width="1.3"/>
<line x1="472.37" y1="476.70" x2="472.37" y2="498.00" stroke="#4d4d4d" stroke-width="1.1"/>
<line x1="470.77" y1="476.70" x2="473.97" y2="476.70" stroke="#4d4d4d" stroke-width="1.3"/>
<line x1="470.77" y1="498.00" x2="473.97" y2="498.00" stroke="#4d4d4d" stroke-width="1.3"/>
<line x1="481.49" y1="474.60" x2="481.49" y2="496.80" stroke="#4d4d4d" stroke-width="1.1"/>
<line x1="479.89" y1="474.60" x2="483.09" y2="474.60" stroke="#4d4d4d" stroke-width="1.3"/>
<line x1="479.89" y1="496.80" x2="483.09" y2="496.80" stroke="#4d4d4d" stroke-width="1.3"/>
<line x1="490.61" y1="469.60" x2="490.61" y2="496.30" stroke="#4d4d4d" stroke-width="1.1"/>
<line x1="489.01" y1="469.60" x2="492.21" y2="469.60" stroke="#4d4d4d" stroke-width="1.3"/>
<line x1="489.01" y1="496.30" x2="492.21" y2="496.30" stroke="#4d4d4d" stroke-width="1.3"/>
<line x1="499.73" y1="471.50" x2="499.73" y2="496.80" stroke="#4d4d4d" stroke-width="1.1"/>
<line x1="498.13" y1="471.50" x2="501.33" y2="471.50" stroke="#4d4d4d" stroke-width="1.3"/>
<line x1="498.13" y1="496.80" x2="501.33" y2="496.80" stroke="#4d4d4d" stroke-width="1.3"/>
<line x1="513.42" y1="472.00" x2="513.42" y2="504.70" stroke="#4d4d4d" stroke-width="1.1"/>
<line x1="511.82" y1="472.00" x2="515.02" y2="472.00" stroke="#4d4d4d" stroke-width="1.3"/>
<line x1="511.82" y1="504.70" x2="515.02" y2="504.70" stroke="#4d4d4d" stroke-width="1.3"/>
<line x1="527.10" y1="468.30" x2="527.10" y2="502.40" stroke="#4d4d4d" stroke-width="1.1"/>
<line x1="525.50" y1="468.30" x2="528.70" y2="468.30" stroke="#4d4d4d" stroke-width="1.3"/>
<line x1="525.50" y1="502.40" x2="528.70" y2="502.40" stroke="#4d4d4d" stroke-width="1.3"/>
<line x1="540.79" y1="493.00" x2="540.79" y2="524.30" stroke="#4d4d4d" stroke-width="1.1"/>
<line x1="539.19" y1="493.00" x2="542.39" y2="493.00" stroke="#4d4d4d" stroke-width="1.3"/>
<line x1="539.19" y1="524.30" x2="542.39" y2="524.30" stroke="#4d4d4d" stroke-width="1.3"/>
<line x1="554.47" y1="505.30" x2="554.47" y2="544.50" stroke="#4d4d4d" stroke-width="1.1"/>
<line x1="552.87" y1="505.30" x2="556.07" y2="505.30" stroke="#4d4d4d" stroke-width="1.3"/>
<line x1="552.87" y1="544.50" x2="556.07" y2="544.50" stroke="#4d4d4d" stroke-width="1.3"/>
<line x1="445.00" y1="427.80" x2="445.00" y2="453.50" stroke="#4d4d4d" stroke-width="1.1"/>
<line x1="443.40" y1="427.80" x2="446.60" y2="427.80" stroke="#4d4d4d" stroke-width="1.3"/>
<line x1="443.40" y1="453.50" x2="446.60" y2="453.50" stroke="#4d4d4d" stroke-width="1.3"/>
<line x1="449.56" y1="462.70" x2="449.56" y2="486.00" stroke="#4d4d4d" stroke-width="1.1"/>
<line x1="447.96" y1="462.70" x2="451.16" y2="462.70" stroke="#4d4d4d" stroke-width="1.3"/>
<line x1="447.96" y1="486.00" x2="451.16" y2="486.00" stroke="#4d4d4d" stroke-width="1.3"/>
<line x1="454.12" y1="519.60" x2="454.12" y2="540.60" stroke="#4d4d4d" stroke-width="1.1"/>
<line x1="452.52" y1="519.60" x2="455.72" y2="519.60" stroke="#4d4d4d" stroke-width="1.3"/>
<line x1="452.52" y1="540.60" x2="455.72" y2="540.60" stroke="#4d4d4d" stroke-width="1.3"/>
<line x1="458.68" y1="519.60" x2="458.68" y2="541.10" stroke="#4d4d4d" stroke-width="1.1"/>
<line x1="457.08" y1="519.60" x2="460.28" y2="519.60" stroke="#4d4d4d" stroke-width="1.3"/>
<line x1="457.08" y1="541.10" x2="460.28" y2="541.10" stroke="#4d4d4d" stroke-width="1.3"/>
<line x1="463.24" y1="535.30" x2="463.24" y2="552.00" stroke="#4d4d4d" stroke-width="1.1"/>
<line x1="461.64" y1="535.30" x2="464.84" y2="535.30" stroke="#4d4d4d" stroke-width="1.3"/>
<line x1="461.64" y1="552.00" x2="464.84" y2="552.00" stroke="#4d4d4d" stroke-width="1.3"/>
<line x1="472.37" y1="534.50" x2="472.37" y2="552.00" stroke="#4d4d4d" stroke-width="1.1"/>
<line x1="470.77" y1="534.50" x2="473.97" y2="534.50" stroke="#4d4d4d" stroke-width="1.3"/>
<line x1="470.77" y1="552.00" x2="473.97" y2="552.00" stroke="#4d4d4d" stroke-width="1.3"/>
<line x1="481.49" y1="538.10" x2="481.49" y2="554.50" stroke="#4d4d4d" stroke-width="1.1"/>
<line x1="479.89" y1="538.10" x2="483.09" y2="538.10" stroke="#4d4d4d" stroke-width="1.3"/>
<line x1="479.89" y1="554.50" x2="483.09" y2="554.50" stroke="#4d4d4d" stroke-width="1.3"/>
<line x1="490.61" y1="537.30" x2="490.61" y2="555.20" stroke="#4d4d4d" stroke-width="1.1"/>
<line x1="489.01" y1="537.30" x2="492.21" y2="537.30" stroke="#4d4d4d" stroke-width="1.3"/>
<line x1="489.01" y1="555.20" x2="492.21" y2="555.20" stroke="#4d4d4d" stroke-width="1.3"/>
<line x1="499.73" y1="551.20" x2="499.73" y2="567.00" stroke="#4d4d4d" stroke-width="1.1"/>
<line x1="498.13" y1="551.20" x2="501.33" y2="551.20" stroke="#4d4d4d" stroke-width="1.3"/>
<line x1="498.13" y1="567.00" x2="501.33" y2="567.00" stroke="#4d4d4d" stroke-width="1.3"/>
<line x1="513.42" y1="539.50" x2="513.42" y2="557.90" stroke="#4d4d4d" stroke-width="1.1"/>
<line x1="511.82" y1="539.50" x2="515.02" y2="539.50" stroke="#4d4d4d" stroke-width="1.3"/>
<line x1="511.82" y1="557.90" x2="515.02" y2="557.90" stroke="#4d4d4d" stroke-width="1.3"/>
<line x1="527.10" y1="546.80" x2="527.10" y2="565.20" stroke="#4d4d4d" stroke-width="1.1"/>
<line x1="525.50" y1="546.80" x2="528.70" y2="546.80" stroke="#4d4d4d" stroke-width="1.3"/>
<line x1="525.50" y1="565.20" x2="528.70" y2="565.20" stroke="#4d4d4d" stroke-width="1.3"/>
<line x1="540.79" y1="538.10" x2="540.79" y2="558.20" stroke="#4d4d4d" stroke-width="1.1"/>
<line x1="539.19" y1="538.10" x2="542.39" y2="538.10" stroke="#4d4d4d" stroke-width="1.3"/>
<line x1="539.19" y1="558.20" x2="542.39" y2="558.20" stroke="#4d4d4d" stroke-width="1.3"/>
<line x1="554.47" y1="539.90" x2="554.47" y2="560.30" stroke="#4d4d4d" stroke-width="1.1"/>
<line x1="552.87" y1="539.90" x2="556.07" y2="539.90" stroke="#4d4d4d" stroke-width="1.3"/>
<line x1="552.87" y1="560.30" x2="556.07" y2="560.30" stroke="#4d4d4d" stroke-width="1.3"/>
<line x1="568.15" y1="521.50" x2="568.15" y2="550.30" stroke="#4d4d4d" stroke-width="1.1"/>
<line x1="566.55" y1="521.50" x2="569.75" y2="521.50" stroke="#4d4d4d" stroke-width="1.3"/>
<line x1="566.55" y1="550.30" x2="569.75" y2="550.30" stroke="#4d4d4d" stroke-width="1.3"/>
<line x1="581.84" y1="560.70" x2="581.84" y2="571.80" stroke="#4d4d4d" stroke-width="1.1"/>
<line x1="580.24" y1="560.70" x2="583.44" y2="560.70" stroke="#4d4d4d" stroke-width="1.3"/>
<line x1="580.24" y1="571.80" x2="583.44" y2="571.80" stroke="#4d4d4d" stroke-width="1.3"/>
<line x1="609.20" y1="559.80" x2="609.20" y2="570.80" stroke="#4d4d4d" stroke-width="1.1"/>
<line x1="607.60" y1="559.80" x2="610.80" y2="559.80" stroke="#4d4d4d" stroke-width="1.3"/>
<line x1="607.60" y1="570.80" x2="610.80" y2="570.80" stroke="#4d4d4d" stroke-width="1.3"/>
<line x1="636.57" y1="556.60" x2="636.57" y2="568.90" stroke="#4d4d4d" stroke-width="1.1"/>
<line x1="634.97" y1="556.60" x2="638.17" y2="556.60" stroke="#4d4d4d" stroke-width="1.3"/>
<line x1="634.97" y1="568.90" x2="638.17" y2="568.90" stroke="#4d4d4d" stroke-width="1.3"/>
<line x1="663.94" y1="557.10" x2="663.94" y2="569.70" stroke="#4d4d4d" stroke-width="1.1"/>
<line x1="662.34" y1="557.10" x2="665.54" y2="557.10" stroke="#4d4d4d" stroke-width="1.3"/>
<line x1="662.34" y1="569.70" x2="665.54" y2="569.70" stroke="#4d4d4d" stroke-width="1.3"/>
<line x1="691.30" y1="560.70" x2="691.30" y2="573.00" stroke="#4d4d4d" stroke-width="1.1"/>
<line x1="689.70" y1="560.70" x2="692.90" y2="560.70" stroke="#4d4d4d" stroke-width="1.3"/>
<line x1="689.70" y1="573.00" x2="692.90" y2="573.00" stroke="#4d4d4d" stroke-width="1.3"/>
<line x1="718.67" y1="560.70" x2="718.67" y2="573.00" stroke="#4d4d4d" stroke-width="1.1"/>
<line x1="717.07" y1="560.70" x2="720.27" y2="560.70" stroke="#4d4d4d" stroke-width="1.3"/>
<line x1="717.07" y1="573.00" x2="720.27" y2="573.00" stroke="#4d4d4d" stroke-width="1.3"/>
<line x1="746.04" y1="560.70" x2="746.04" y2="574.00" stroke="#4d4d4d" stroke-width="1.1"/>
<line x1="744.44" y1="560.70" x2="747.64" y2="560.70" stroke="#4d4d4d" stroke-width="1.3"/>
<line x1="744.44" y1="574.00" x2="747.64" y2="574.00" stroke="#4d4d4d" stroke-width="1.3"/>
<line x1="773.41" y1="550.50" x2="773.41" y2="566.70" stroke="#4d4d4d" stroke-width="1.1"/>
<line x1="771.81" y1="550.50" x2="775.01" y2="550.50" stroke="#4d4d4d" stroke-width="1.3"/>
<line x1="771.81" y1="566.70" x2="775.01" y2="566.70" stroke="#4d4d4d" stroke-width="1.3"/>
<polyline points="445.00,473.10 449.56,463.70 454.12,466.30 458.68,475.90 463.24,479.50 472.37,487.10 481.49,485.80 490.61,483.40 499.73,484.50 513.42,488.10 527.10,485.80 540.79,508.50 554.47,524.90" fill="none" stroke="#b6b6b6" stroke-width="1.15"/>
<path d="M445.00,470.00 L448.10,473.10 L445.00,476.20 L441.90,473.10 Z" fill="#a9a9a9"/>
<path d="M449.56,460.60 L452.66,463.70 L449.56,466.80 L446.46,463.70 Z" fill="#a9a9a9"/>
<path d="M454.12,463.20 L457.22,466.30 L454.12,469.40 L451.02,466.30 Z" fill="#a9a9a9"/>
<path d="M458.68,472.80 L461.78,475.90 L458.68,479.00 L455.58,475.90 Z" fill="#a9a9a9"/>
<path d="M463.24,476.40 L466.34,479.50 L463.24,482.60 L460.14,479.50 Z" fill="#a9a9a9"/>
<path d="M472.37,484.00 L475.47,487.10 L472.37,490.20 L469.27,487.10 Z" fill="#a9a9a9"/>
<path d="M481.49,482.70 L484.59,485.80 L481.49,488.90 L478.39,485.80 Z" fill="#a9a9a9"/>
<path d="M490.61,480.30 L493.71,483.40 L490.61,486.50 L487.51,483.40 Z" fill="#a9a9a9"/>
<path d="M499.73,481.40 L502.83,484.50 L499.73,487.60 L496.63,484.50 Z" fill="#a9a9a9"/>
<path d="M513.42,485.00 L516.52,488.10 L513.42,491.20 L510.32,488.10 Z" fill="#a9a9a9"/>
<path d="M527.10,482.70 L530.20,485.80 L527.10,488.90 L524.00,485.80 Z" fill="#a9a9a9"/>
<path d="M540.79,505.40 L543.89,508.50 L540.79,511.60 L537.69,508.50 Z" fill="#a9a9a9"/>
<path d="M554.47,521.80 L557.57,524.90 L554.47,528.00 L551.37,524.90 Z" fill="#a9a9a9"/>
<polyline points="445.00,440.90 449.56,473.80 454.12,530.10 458.68,531.00 463.24,543.60 472.37,543.60 481.49,546.60 490.61,546.30 499.73,559.50 513.42,549.50 527.10,556.40 540.79,548.20 554.47,550.10 568.15,536.40 581.84,566.10 609.20,565.30 636.57,562.60 663.94,564.00 691.30,567.00 718.67,567.00 746.04,567.00 773.41,558.80" fill="none" stroke="#186769" stroke-width="1.2"/>
<circle cx="445.00" cy="440.90" r="3.0" fill="#186769"/>
<circle cx="449.56" cy="473.80" r="3.0" fill="#186769"/>
<circle cx="454.12" cy="530.10" r="3.0" fill="#186769"/>
<circle cx="458.68" cy="531.00" r="3.0" fill="#186769"/>
<circle cx="463.24" cy="543.60" r="3.0" fill="#186769"/>
<circle cx="472.37" cy="543.60" r="3.0" fill="#186769"/>
<circle cx="481.49" cy="546.60" r="3.0" fill="#186769"/>
<circle cx="490.61" cy="546.30" r="3.0" fill="#186769"/>
<circle cx="499.73" cy="559.50" r="3.0" fill="#186769"/>
<circle cx="513.42" cy="549.50" r="3.0" fill="#186769"/>
<circle cx="527.10" cy="556.40" r="3.0" fill="#186769"/>
<circle cx="540.79" cy="548.20" r="3.0" fill="#186769"/>
<circle cx="554.47" cy="550.10" r="3.0" fill="#186769"/>
<circle cx="568.15" cy="536.40" r="3.0" fill="#186769"/>
<circle cx="581.84" cy="566.10" r="3.0" fill="#186769"/>
<circle cx="609.20" cy="565.30" r="3.0" fill="#186769"/>
<circle cx="636.57" cy="562.60" r="3.0" fill="#186769"/>
<circle cx="663.94" cy="564.00" r="3.0" fill="#186769"/>
<circle cx="691.30" cy="567.00" r="3.0" fill="#186769"/>
<circle cx="718.67" cy="567.00" r="3.0" fill="#186769"/>
<circle cx="746.04" cy="567.00" r="3.0" fill="#186769"/>
<circle cx="773.41" cy="558.80" r="3.0" fill="#186769"/>
<text x="400.30" y="653.80" font-size="12.6" text-anchor="start" font-weight="normal" fill="#1a1a1a" stroke="#1a1a1a" stroke-width="0.12" >No. of patients</text>
<text x="400.50" y="668.80" font-size="12.6" text-anchor="start" font-weight="normal" fill="#217476" stroke="#217476" stroke-width="0.12" >RUX</text>
<text x="400.50" y="682.70" font-size="12.6" text-anchor="start" font-weight="normal" fill="#999999" stroke="#999999" stroke-width="0.12" >PBO</text>
<text x="445.20" y="668.80" font-size="12.3" text-anchor="middle" font-weight="normal" fill="#217476" stroke="#217476" stroke-width="0.12" >155</text>
<text x="472.53" y="668.80" font-size="12.3" text-anchor="middle" font-weight="normal" fill="#217476" stroke="#217476" stroke-width="0.12" >144</text>
<text x="499.87" y="668.80" font-size="12.3" text-anchor="middle" font-weight="normal" fill="#217476" stroke="#217476" stroke-width="0.12" >143</text>
<text x="527.20" y="668.80" font-size="12.3" text-anchor="middle" font-weight="normal" fill="#217476" stroke="#217476" stroke-width="0.12" >136</text>
<text x="554.53" y="668.80" font-size="12.3" text-anchor="middle" font-weight="normal" fill="#217476" stroke="#217476" stroke-width="0.12" >124</text>
<text x="581.87" y="668.80" font-size="12.3" text-anchor="middle" font-weight="normal" fill="#217476" stroke="#217476" stroke-width="0.12" >112</text>
<text x="609.20" y="668.80" font-size="12.3" text-anchor="middle" font-weight="normal" fill="#217476" stroke="#217476" stroke-width="0.12" >110</text>
<text x="636.54" y="668.80" font-size="12.3" text-anchor="middle" font-weight="normal" fill="#217476" stroke="#217476" stroke-width="0.12" >107</text>
<text x="663.87" y="668.80" font-size="12.3" text-anchor="middle" font-weight="normal" fill="#217476" stroke="#217476" stroke-width="0.12" >104</text>
<text x="691.20" y="668.80" font-size="12.3" text-anchor="middle" font-weight="normal" fill="#217476" stroke="#217476" stroke-width="0.12" >100</text>
<text x="718.54" y="668.80" font-size="12.3" text-anchor="middle" font-weight="normal" fill="#217476" stroke="#217476" stroke-width="0.12" >94</text>
<text x="745.87" y="668.80" font-size="12.3" text-anchor="middle" font-weight="normal" fill="#217476" stroke="#217476" stroke-width="0.12" >88</text>
<text x="773.20" y="668.80" font-size="12.3" text-anchor="middle" font-weight="normal" fill="#217476" stroke="#217476" stroke-width="0.12" >79</text>
<text x="445.20" y="682.70" font-size="12.3" text-anchor="middle" font-weight="normal" fill="#999999" stroke="#999999" stroke-width="0.12" >151</text>
<text x="472.53" y="682.70" font-size="12.3" text-anchor="middle" font-weight="normal" fill="#999999" stroke="#999999" stroke-width="0.12" >128</text>
<text x="499.87" y="682.70" font-size="12.3" text-anchor="middle" font-weight="normal" fill="#999999" stroke="#999999" stroke-width="0.12" >112</text>
<text x="527.20" y="682.70" font-size="12.3" text-anchor="middle" font-weight="normal" fill="#999999" stroke="#999999" stroke-width="0.12" >82</text>
<text x="554.53" y="682.70" font-size="12.3" text-anchor="middle" font-weight="normal" fill="#999999" stroke="#999999" stroke-width="0.12" >37</text>
</svg>
</body></html>
